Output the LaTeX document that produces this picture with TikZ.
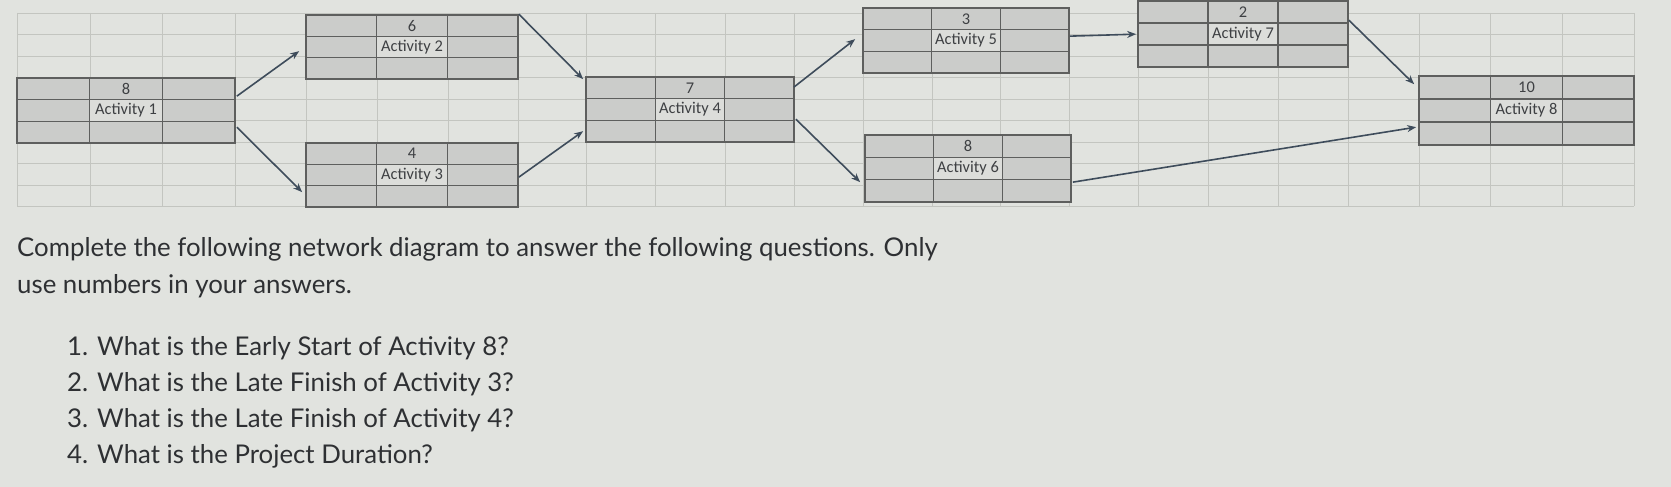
\documentclass[tikz,border=0pt]{standalone}
\usepackage{fontspec}
\setmainfont{Lato}
\newfontfamily\boxfont{Carlito}
\usetikzlibrary{arrows.meta,calc,fit}
\definecolor{bgc}{HTML}{E1E3DF}
\definecolor{gridc}{HTML}{C3C5C0}
\definecolor{shadec}{HTML}{CBCCCA}
\definecolor{lightc}{HTML}{DCDDDA}
\definecolor{framec}{HTML}{5E5F5E}
\definecolor{connc}{HTML}{3E4C5B}
\definecolor{txtc}{HTML}{2E3033}
\definecolor{boxtxt}{HTML}{3E4043}
\newcommand\actbox[7]{%
  \pgfmathsetmacro\cwd{(#4-#2)/3}%
  \pgfmathsetmacro\rhg{(#5-#3)/3}%
  \fill[shadec] (#2,#3) rectangle (#4,#5);
  \fill[lightc] (#2+\cwd,#3+\rhg) rectangle (#2+2*\cwd,#3+2*\rhg);
  \draw[cellline] (#2+\cwd,#3) -- (#2+\cwd,#5) (#2+2*\cwd,#3) -- (#2+2*\cwd,#5)
    (#2,#3+\rhg) -- (#4,#3+\rhg) (#2,#3+2*\rhg) -- (#4,#3+2*\rhg);
  \coordinate (#1-nw) at (#2,#3);
  \coordinate (#1-se) at (#4,#5);
  \node[boxframe, fit=(#1-nw)(#1-se)] (#1) {};
  \node[boxlabel] (#1-num) at (#2+1.5*\cwd,#3+0.5*\rhg) {#6};
  \node[boxlabel] (#1-lab) at (#2+1.5*\cwd,#3+1.5*\rhg) {#7};
}
\begin{document}
\begin{tikzpicture}[x=1pt,y=-1pt,
  cellline/.style={draw=framec, line width=1.3pt},
  boxframe/.style={draw=framec, line width=1.7pt, inner sep=0pt, rectangle},
  boxlabel/.style={font=\boxfont\fontsize{16.4}{16.4}\selectfont, text=boxtxt, inner sep=0pt},
  conn/.style={draw=connc, line width=1.6pt, -{Stealth[length=9pt,width=7pt]}},
  para/.style={font=\fontsize{25.8}{25.8}\selectfont, text=txtc, inner sep=0pt, anchor=base west},
  gridline/.style={draw=gridc, line width=0.9pt}]
\useasboundingbox (0,0) rectangle (1671,487);
\fill[bgc] (0,0) rectangle (1671,487);
% spreadsheet grid
\foreach \gx in {17,90,162,235,306,377,448,518,586,655,725,794,863,932,1000,1069,1138,1208,1278,1348,1419,1490,1562,1634}
  \draw[gridline] (\gx,13) -- (\gx,206);
\foreach \gy in {13,34.5,56,77.5,99,120.5,142,163.5,185,206}
  \draw[gridline] (17,\gy) -- (1634,\gy);
% activity boxes
\actbox{a1}{17}{78}{235}{143}{8}{Activity 1}
\actbox{a2}{306}{15}{518}{79}{6}{Activity 2}
\actbox{a3}{306}{143}{518}{207}{4}{Activity 3}
\actbox{a4}{586}{77}{794}{142}{7}{Activity 4}
\actbox{a5}{863}{8}{1069}{73}{3}{Activity 5}
\actbox{a6}{865}{135}{1071}{202}{8}{Activity 6}
\actbox{a7}{1138}{1}{1348}{67}{2}{Activity 7}
\actbox{a8}{1419}{76}{1634}{145}{10}{Activity 8}
% connectors
\draw[conn] ($(a1.north east)+(1,19)$) -- ($(a2.north west)+(-6,37)$);
\draw[conn] ($(a1.north east)+(1,50)$) -- ($(a3.north west)+(-3,50)$);
\draw[conn] ($(a2.north east)+(0,0)$) -- ($(a4.north west)+(-2,3)$);
\draw[conn] ($(a3.north east)+(0,35)$) -- ($(a4.north west)+(-2,55)$);
\draw[conn] ($(a4.north east)+(-1,11)$) -- ($(a5.north west)+(-7,32)$);
\draw[conn] ($(a4.north east)+(1,43)$) -- ($(a6.north west)+(-4,48)$);
\draw[conn] ($(a5.north east)+(0,29)$) -- ($(a7.north west)+(-1,34)$);
\draw[conn] ($(a6.north east)+(1,48)$) -- ($(a8.north west)+(-2,52)$);
\draw[conn] ($(a7.north east)+(0,20)$) -- ($(a8.north west)+(-4,9)$);
% text
\node[para] (p1) at (17,256) {Complete the following network diagram to answer the following questions. Only};
\node[para] (p2) at (17,293) {use numbers in your answers.};
\node[para] (n1) at (67,355) {1.};
\node[para] (q1) at (97,355) {What is the Early Start of Activity 8?};
\node[para] (n2) at (67,391) {2.};
\node[para] (q2) at (97,391) {What is the Late Finish of Activity 3?};
\node[para] (n3) at (67,427) {3.};
\node[para] (q3) at (97,427) {What is the Late Finish of Activity 4?};
\node[para] (n4) at (67,463) {4.};
\node[para] (q4) at (97,463) {What is the Project Duration?};
\end{tikzpicture}
\end{document}
